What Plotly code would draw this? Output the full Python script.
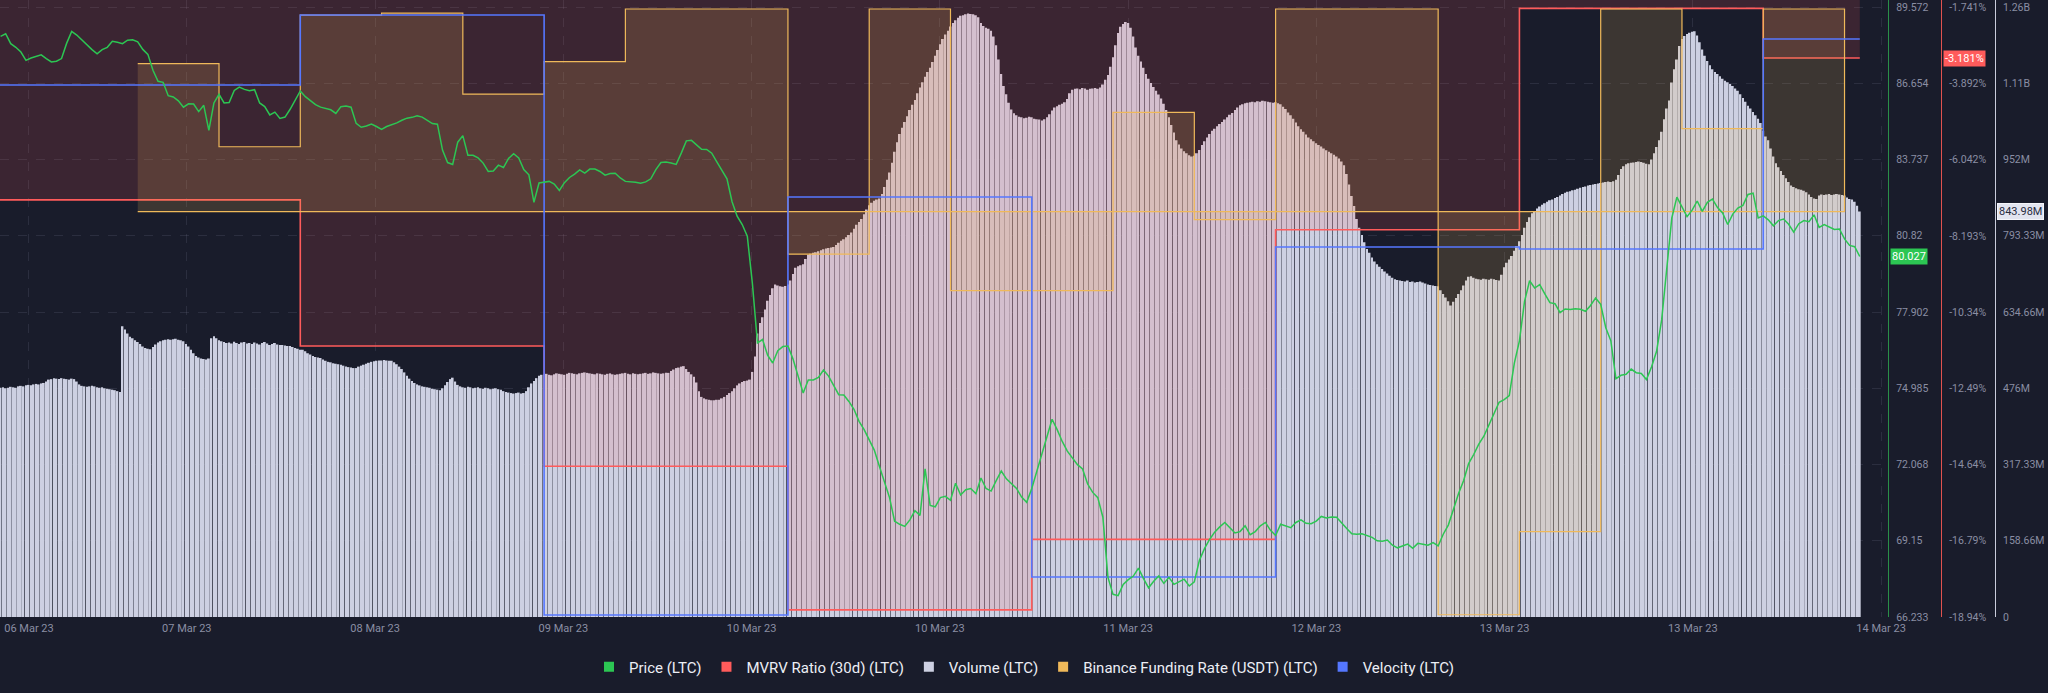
import pandas as pd
import plotly.graph_objects as go

# ---------------------------------------------------------------- data
VOLUME_START = "2023-03-06 18:30"          # 15-minute bars
VOLUME_M = [
    477, 478, 476, 477, 479, 478, 477, 480, 481, 480, 482, 483, 482, 484, 485, 484, 486, 487,
    490,
    494, 495, 497, 496, 495, 497, 496, 495, 494, 496, 495,
    490, 484,
    481, 480, 479, 480, 481, 480, 478, 477, 478, 476, 475, 474, 473, 472,
    470, 468,
    605, 598, 590, 583, 580, 576, 572, 568, 563, 560, 558, 557, 562, 567, 571, 574, 576, 577, 578, 577,
    578, 579, 577, 576, 574, 568, 563, 556, 549, 543, 540, 538, 537, 536, 538, 580, 584, 580, 576, 574,
    572, 570, 571, 569, 573, 570, 568, 571, 572, 569, 570, 568, 571, 569, 567, 570, 572, 569, 566, 568,
    570, 567, 566,
    566, 565, 564, 564, 562, 560, 558, 556, 556, 553, 549, 546, 543, 541, 540, 539, 536, 533, 531, 530,
    528, 527, 526, 525, 523, 521, 520, 519, 518, 518,
    521, 523, 525, 527, 529, 531, 532, 533, 534, 534, 535, 534, 533, 533, 530, 526, 521, 516, 509, 502,
    496, 491, 487, 484, 482, 480, 479, 478, 477, 475, 474, 473, 472, 476, 482, 489, 495, 498, 490, 483,
    480,
    478, 477, 479, 478, 476, 477, 478, 476, 475, 477, 476, 474, 475, 476, 474,
    473, 470, 468, 467, 466, 465, 466, 467, 465, 466, 470, 478, 486, 491, 497, 502,
    504, 505, 506, 504, 503, 505, 507, 506, 505, 504, 506, 508, 507, 506, 505, 507, 508, 509, 508, 507,
    506, 505, 507, 506, 505, 504, 506, 507, 505, 504, 505, 506, 507, 508, 506, 505, 507, 506, 505, 506,
    507, 508, 506, 507, 509, 508, 507, 506, 507, 508,
    508, 512, 515, 518, 519, 521, 522, 516, 510, 505, 500, 488, 470,
    458, 455, 453, 452, 451, 451, 452, 452, 455, 458, 462, 466, 470, 476, 482, 486, 489, 491, 492, 494,
    510, 542, 590, 612, 624, 640, 658, 670, 684, 692,
    690, 688, 687, 689, 692, 700, 714, 727, 730, 732,
    734, 745, 754, 756, 758, 759, 761, 763, 765, 767,
    768, 769, 770, 774, 779, 783, 786, 790, 795, 800,
    808, 816, 822, 828, 838, 848, 857, 862, 866, 869,
    871, 880, 895, 910, 925, 945, 968, 988, 1005, 1018,
    1030, 1042, 1055, 1066, 1076, 1090, 1102, 1113, 1124, 1134,
    1143, 1155, 1168, 1180, 1192, 1203, 1212, 1220, 1229, 1236,
    1242, 1247, 1251, 1252, 1254, 1256, 1255, 1254, 1252, 1248,
    1236, 1230, 1226, 1224, 1220, 1208, 1190, 1160, 1130, 1105,
    1088, 1070, 1056, 1048, 1044, 1041,
    1040, 1038, 1039, 1041, 1040, 1037, 1036, 1035, 1033, 1036,
    1040, 1046, 1054, 1060, 1063, 1066, 1068, 1071, 1078, 1090, 1097,
    1099, 1100, 1098, 1101, 1100, 1097, 1099, 1100, 1101, 1099, 1102,
    1108, 1118, 1128, 1145, 1165, 1190, 1215, 1228, 1234, 1238,
    1236, 1226, 1208, 1185, 1168, 1156, 1143, 1130, 1120, 1111,
    1103, 1095, 1087, 1079, 1068, 1055, 1040, 1024, 1008, 992,
    983, 975, 969, 965, 961, 958, 960, 965, 972, 982,
    990, 998, 1005, 1012, 1016, 1021, 1026, 1030, 1035, 1040,
    1045, 1049, 1055, 1060, 1065, 1067, 1069, 1070,
    1071, 1072, 1071, 1073, 1072, 1074, 1073, 1072, 1071, 1070, 1071, 1069,
    1067, 1062, 1057, 1050, 1044, 1037, 1029, 1021, 1015, 1010,
    1004, 998, 994, 990, 986, 982, 979, 975, 971, 968,
    965, 962, 958, 954, 948, 940, 922, 900, 876, 855,
    828, 810, 795, 780, 766, 758, 748, 740, 734, 729,
    724, 719, 715, 710, 706, 703, 701,
    700, 699, 698, 700, 697, 698, 696, 697, 698, 696,
    694, 692, 691, 690, 689, 688, 680, 672, 665, 657,
    648, 656, 664, 672, 680, 690, 700, 708, 709,
    706, 704, 703, 702, 704, 703, 702, 704, 703, 701, 700,
    712, 728, 737, 744, 751, 762, 772, 782, 795, 810,
    822, 832, 840, 845, 850, 854, 858, 861, 864, 867,
    869, 872, 874, 877, 880, 883, 885, 886, 888, 889,
    891, 893, 895, 896, 898, 899, 900, 901, 902, 903,
    904, 905, 906, 905, 907, 910, 920, 932, 938, 942,
    944, 945, 946, 947, 948, 947, 945, 943, 942, 952,
    965, 978, 992, 1010, 1036, 1058, 1075, 1112, 1140, 1160,
    1188, 1203, 1209, 1213, 1216, 1218, 1219, 1210, 1196, 1181,
    1168, 1157, 1148, 1140, 1134, 1130, 1125, 1120, 1116, 1113,
    1109, 1105, 1100, 1095, 1088, 1080, 1072, 1064, 1058, 1051,
    1044, 1037, 1028, 1012, 1000, 992, 975, 958, 944, 936,
    928, 920, 913, 905, 898, 895, 892, 890, 889, 887,
    884, 879, 874, 871, 870, 877, 879, 878, 879, 880,
    878, 879, 880, 879, 878, 877, 873, 870, 869, 864, 856, 843.98,
]

PRICE_START = "2023-03-06 18:30"           # 30-minute points
PRICE = [
    88.45, 88.55, 88.17, 88.03, 87.85, 87.53, 87.62, 87.69, 87.74, 87.60,
    87.47, 87.50, 87.60, 88.18, 88.64, 88.50, 88.30, 88.10, 87.94, 87.78,
    87.94, 88.03, 88.26, 88.22, 88.17, 88.30, 88.32, 88.24, 87.95, 87.76,
    87.15, 86.73, 86.69, 86.18, 86.13, 85.98, 85.74, 85.87, 85.86, 85.57,
    85.81, 84.85, 85.90, 86.23, 85.90, 85.92, 86.38, 86.51, 86.42, 86.37,
    86.41, 85.90, 85.76, 85.44, 85.55, 85.31, 85.36, 85.66, 86.02, 86.36,
    86.14, 86.00, 85.84, 85.74, 85.70, 85.64, 85.50, 85.76, 85.78, 85.74,
    85.12, 84.97, 85.02, 85.09, 85.00, 84.89, 85.00, 85.06, 85.14, 85.24,
    85.32, 85.35, 85.41, 85.36, 85.22, 85.11, 85.09, 84.10, 83.62, 83.55,
    84.40, 84.65, 83.90, 83.90, 83.80, 83.60, 83.28, 83.30, 83.52, 83.43,
    83.78, 83.96, 83.80, 83.35, 83.15, 82.10, 82.84, 82.88, 82.90, 82.80,
    82.55, 82.85, 83.05, 83.18, 83.34, 83.22, 83.37, 83.37, 83.28, 83.14,
    83.20, 83.21, 83.03, 82.90, 82.89, 82.87, 82.83, 82.88, 83.00, 83.35,
    83.62, 83.64, 83.60, 83.55, 83.98, 84.45, 84.47, 84.30, 84.13, 84.12,
    83.98, 83.65, 83.35, 83.00, 82.12, 81.57, 81.25, 80.80, 79.00, 76.72,
    76.85, 76.25, 75.95, 76.42, 76.58, 76.60, 76.10, 75.48, 74.80, 75.30,
    75.30, 75.40, 75.68, 75.45, 75.10, 74.74, 74.73, 74.48, 74.18, 73.72,
    73.40, 73.00, 72.62, 72.00, 71.36, 70.80, 69.90, 69.78, 69.70, 69.95,
    70.30, 70.12, 71.90, 70.50, 70.45, 70.80, 70.85, 70.70, 71.35, 70.90,
    71.10, 71.15, 70.95, 71.55, 71.15, 71.05, 71.45, 71.82, 71.52, 71.33,
    71.15, 70.82, 70.62, 71.15, 71.80, 72.50, 73.12, 73.80, 73.40, 72.95,
    72.58, 72.30, 72.06, 71.90, 71.32, 71.00, 70.80, 70.05, 67.75, 67.10,
    67.05, 67.48, 67.66, 67.80, 68.10, 67.70, 67.35, 67.60, 67.80, 67.52,
    67.75, 67.48, 67.58, 67.68, 67.42, 67.58, 68.40, 68.85, 69.20, 69.48,
    69.68, 69.85, 69.65, 69.45, 69.50, 69.72, 69.38, 69.50, 69.72, 69.85,
    69.55, 69.35, 69.78, 69.72, 69.65, 69.85, 69.95, 69.82, 69.80, 69.90,
    70.08, 70.02, 70.06, 70.05, 69.82, 69.62, 69.42, 69.40, 69.42, 69.35,
    69.28, 69.15, 69.13, 69.18, 68.98, 68.88, 68.96, 69.02, 68.86, 69.05,
    69.02, 68.98, 69.08, 68.95, 69.40, 69.75, 70.35, 70.95, 71.45, 72.10,
    72.45, 72.85, 73.15, 73.60, 74.05, 74.45, 74.55, 74.70, 75.95, 76.80,
    78.30, 79.10, 78.82, 78.95, 78.60, 78.26, 78.22, 77.88, 78.02, 78.00,
    78.03, 78.01, 77.93, 78.15, 78.44, 78.20, 77.30, 76.80, 75.35, 75.48,
    75.52, 75.72, 75.58, 75.55, 75.32, 75.80, 76.40, 77.60, 79.55, 81.50,
    82.30, 81.95, 81.55, 81.80, 82.15, 81.75, 82.10, 82.22, 81.90, 81.69,
    81.25, 81.65, 81.88, 81.98, 82.40, 82.45, 81.50, 81.58, 81.43, 81.20,
    81.40, 81.46, 81.26, 80.96, 81.28, 81.40, 81.36, 81.62, 81.14, 81.25,
    81.17, 81.06, 81.08, 80.70, 80.45, 80.40, 80.027,
]

DAILY_DATES = ["2023-03-06 00:00", "2023-03-07 00:00", "2023-03-08 00:00", "2023-03-09 00:00",
               "2023-03-10 00:00", "2023-03-11 00:00", "2023-03-12 00:00", "2023-03-13 00:00",
               "2023-03-14 00:00", "2023-03-14 09:30"]
MVRV = [-7.18, -7.18, -11.30, -14.69, -18.74, -16.75, -8.02, -1.78, -3.181, -3.181]   # %
VELOCITY = [3.66, 3.66, 4.01, 1.01, 3.10, 1.20, 2.85, 2.84, 3.89, 3.89]

FUNDING_DATES = ["2023-03-07 08:00", "2023-03-07 16:00", "2023-03-08 00:00", "2023-03-08 08:00",
                 "2023-03-08 16:00", "2023-03-09 00:00", "2023-03-09 08:00", "2023-03-09 16:00",
                 "2023-03-10 00:00", "2023-03-10 08:00", "2023-03-10 16:00", "2023-03-11 00:00",
                 "2023-03-11 08:00", "2023-03-11 16:00", "2023-03-12 00:00", "2023-03-12 08:00",
                 "2023-03-12 16:00", "2023-03-13 00:00", "2023-03-13 08:00", "2023-03-13 16:00",
                 "2023-03-14 00:00", "2023-03-14 08:00"]
FUNDING = [0.0073, 0.0032, 0.0097, 0.0098, 0.0058, 0.0074, 0.0100, 0.0100,
           -0.0021, 0.0100, -0.0039, -0.0039, 0.0049, -0.0004, 0.0100, 0.0100,
           -0.0199, -0.0158, 0.0100, 0.0041, 0.0100, 0.0100]                      # %

X_TICK_LABELS = ["06 Mar 23", "07 Mar 23", "08 Mar 23", "09 Mar 23", "10 Mar 23", "10 Mar 23",
                 "11 Mar 23", "12 Mar 23", "13 Mar 23", "13 Mar 23", "14 Mar 23"]
PRICE_TICKS = ["66.233", "69.15", "72.068", "74.985", "77.902", "80.82", "83.737", "86.654", "89.572"]
MVRV_TICKS = ["-18.94%", "-16.79%", "-14.64%", "-12.49%", "-10.34%", "-8.193%", "-6.042%", "-3.892%", "-1.741%"]
VOLUME_TICKS_M = [0, 158.667, 317.333, 476, 634.667, 793.333, 952, 1110.667, 1269.333]
VOLUME_TICK_LABELS = ["0", "158.66M", "317.33M", "476M", "634.66M", "793.33M", "952M", "1.11B", "1.26B"]

SERIES_NAMES = ["Price (LTC)", "MVRV Ratio (30d) (LTC)", "Volume (LTC)",
                "Binance Funding Rate (USDT) (LTC)", "Velocity (LTC)"]

# ---------------------------------------------------------------- style
BG = "#191c2b"
GREEN = "#2cc653"
RED = "#ff5b5b"
LAV = "#cdd0e2"
ORANGE = "#efb95a"
BLUE = "#5577ff"
TICK_COLOR = "#8a8ea3"
GRID = "rgba(140,146,170,0.16)"
FONT = "Roboto"

X_RANGE = ["2023-03-06 18:26:36", "2023-03-14 12:11"]
X_DOMAIN_END = 0.9214
PRICE_AXIS_POS, MVRV_AXIS_POS, VOL_AXIS_POS = 0.9219, 0.9478, 0.9741

vol_x = pd.date_range(VOLUME_START, periods=len(VOLUME_M), freq="15min")
price_x = pd.date_range(PRICE_START, periods=len(PRICE), freq="30min")
daily_x = pd.to_datetime(DAILY_DATES, format="ISO8601")
fund_x = list(pd.to_datetime(FUNDING_DATES, format="ISO8601"))

fig = go.Figure()

# Volume bars (base axis, drawn first)
fig.add_trace(go.Bar(x=vol_x, y=[v * 1e6 for v in VOLUME_M], marker=dict(color=LAV, line=dict(width=0)),
                     yaxis="y", showlegend=False, name=SERIES_NAMES[2]))
# MVRV step area (fills toward zero, which sits above the visible range)
fig.add_trace(go.Scatter(x=daily_x, y=MVRV, mode="lines", line=dict(color=RED, width=1.6, shape="hv"),
                         fill="tozeroy", fillcolor="rgba(255,91,91,0.15)", yaxis="y2",
                         showlegend=False, name=SERIES_NAMES[1]))
# Funding rate step area, outlined including its zero baseline
fig.add_trace(go.Scatter(x=fund_x + [fund_x[-1], fund_x[0]], y=FUNDING + [0, 0], mode="lines",
                         line=dict(color=ORANGE, width=1.2, shape="hv"), fill="toself",
                         fillcolor="rgba(240,186,90,0.17)", yaxis="y3",
                         showlegend=False, name=SERIES_NAMES[3]))
# Velocity step line
fig.add_trace(go.Scatter(x=daily_x, y=VELOCITY, mode="lines", line=dict(color=BLUE, width=1.6, shape="hv"),
                         yaxis="y4", showlegend=False, name=SERIES_NAMES[4]))
# Price line
fig.add_trace(go.Scatter(x=price_x, y=PRICE, mode="lines", line=dict(color=GREEN, width=1.5),
                         yaxis="y5", showlegend=False, name=SERIES_NAMES[0]))

# legend entries (square swatches)
for name, col in zip(SERIES_NAMES, [GREEN, RED, LAV, ORANGE, BLUE]):
    fig.add_trace(go.Scatter(x=[None], y=[None], mode="markers", name=name,
                             marker=dict(symbol="square", size=10, color=col)))

tick_step = pd.Timedelta(hours=18.53)
first_tick = pd.Timestamp("2023-03-06 18:18")
tickvals = [first_tick + k * tick_step for k in range(len(X_TICK_LABELS))]
tickvals[0] = pd.Timestamp(X_RANGE[0]) + pd.Timedelta(hours=2.85)

tickfont = dict(family=FONT, size=10.5, color=TICK_COLOR)

fig.update_layout(
    width=2048, height=693,
    margin=dict(l=0, r=0, t=0, b=76, autoexpand=False),
    paper_bgcolor=BG, plot_bgcolor=BG,
    hovermode=False,
    bargap=0.28,
    font=dict(family=FONT, color=TICK_COLOR),
    xaxis=dict(domain=[0, X_DOMAIN_END], type="date", range=X_RANGE,
               tickmode="array", tickvals=tickvals, ticktext=X_TICK_LABELS,
               tickfont=dict(family=FONT, size=11, color=TICK_COLOR), ticks="",
               showgrid=True, gridcolor=GRID, griddash="dash", gridwidth=1,
               zeroline=False, showline=False, ticklabelstandoff=3, automargin=False),
    yaxis=dict(anchor="free", position=VOL_AXIS_POS, side="right", automargin=False,
               range=[0, 1283.9e6], tickmode="array",
               tickvals=[v * 1e6 for v in VOLUME_TICKS_M], ticktext=VOLUME_TICK_LABELS,
               tickfont=tickfont, ticks="", ticklabelstandoff=5,
               showline=True, linecolor="#c9ccdb", linewidth=1,
               showgrid=True, gridcolor=GRID, griddash="dash", zeroline=False),
    yaxis2=dict(anchor="free", position=MVRV_AXIS_POS, side="right", overlaying="y", automargin=False,
                range=[-18.94, -1.5436], tickmode="array",
                tickvals=[float(t.rstrip("%")) for t in MVRV_TICKS], ticktext=MVRV_TICKS,
                tickfont=tickfont, ticks="", ticklabelstandoff=5,
                showline=True, linecolor="#e0524f", linewidth=1, showgrid=False, zeroline=False),
    yaxis3=dict(overlaying="y", visible=False, range=[-0.02001, 0.010444]),
    yaxis4=dict(overlaying="y", visible=False, range=[1.0, 4.085]),
    yaxis5=dict(anchor="free", position=PRICE_AXIS_POS, side="right", overlaying="y", automargin=False,
                range=[66.233, 89.84], tickmode="array",
                tickvals=[float(t) for t in PRICE_TICKS], ticktext=PRICE_TICKS,
                tickfont=tickfont, ticks="", ticklabelstandoff=5,
                showline=True, linecolor="#2a8f48", linewidth=1, showgrid=False, zeroline=False),
    legend=dict(orientation="h", x=0.5, xanchor="center", y=-0.081, yanchor="middle",
                font=dict(family=FONT, size=15, color="#eceef5"), bgcolor="rgba(0,0,0,0)",
                itemclick=False),
    annotations=[
        dict(xref="paper", x=PRICE_AXIS_POS, xanchor="left", xshift=2, yref="y5", y=PRICE[-1],
             text=f"{PRICE[-1]:.3f}", showarrow=False, bgcolor=GREEN, borderpad=1,
             font=dict(family=FONT, size=11, color="#ffffff")),
        dict(xref="paper", x=MVRV_AXIS_POS, xanchor="left", xshift=2, yref="y2", y=MVRV[-1],
             text=f"{MVRV[-1]:.3f}%", showarrow=False, bgcolor=RED, borderpad=1,
             font=dict(family=FONT, size=11, color="#ffffff")),
        dict(xref="paper", x=VOL_AXIS_POS, xanchor="left", xshift=2, yref="y", y=VOLUME_M[-1] * 1e6,
             text=f"{VOLUME_M[-1]:.2f}M", showarrow=False, bgcolor="#e2e4ef", borderpad=1,
             bordercolor="#f4f5fa", borderwidth=1,
             font=dict(family=FONT, size=11, color="#2a2d3f")),
    ],
)

fig.write_html("out.html", config={"displayModeBar": False})
